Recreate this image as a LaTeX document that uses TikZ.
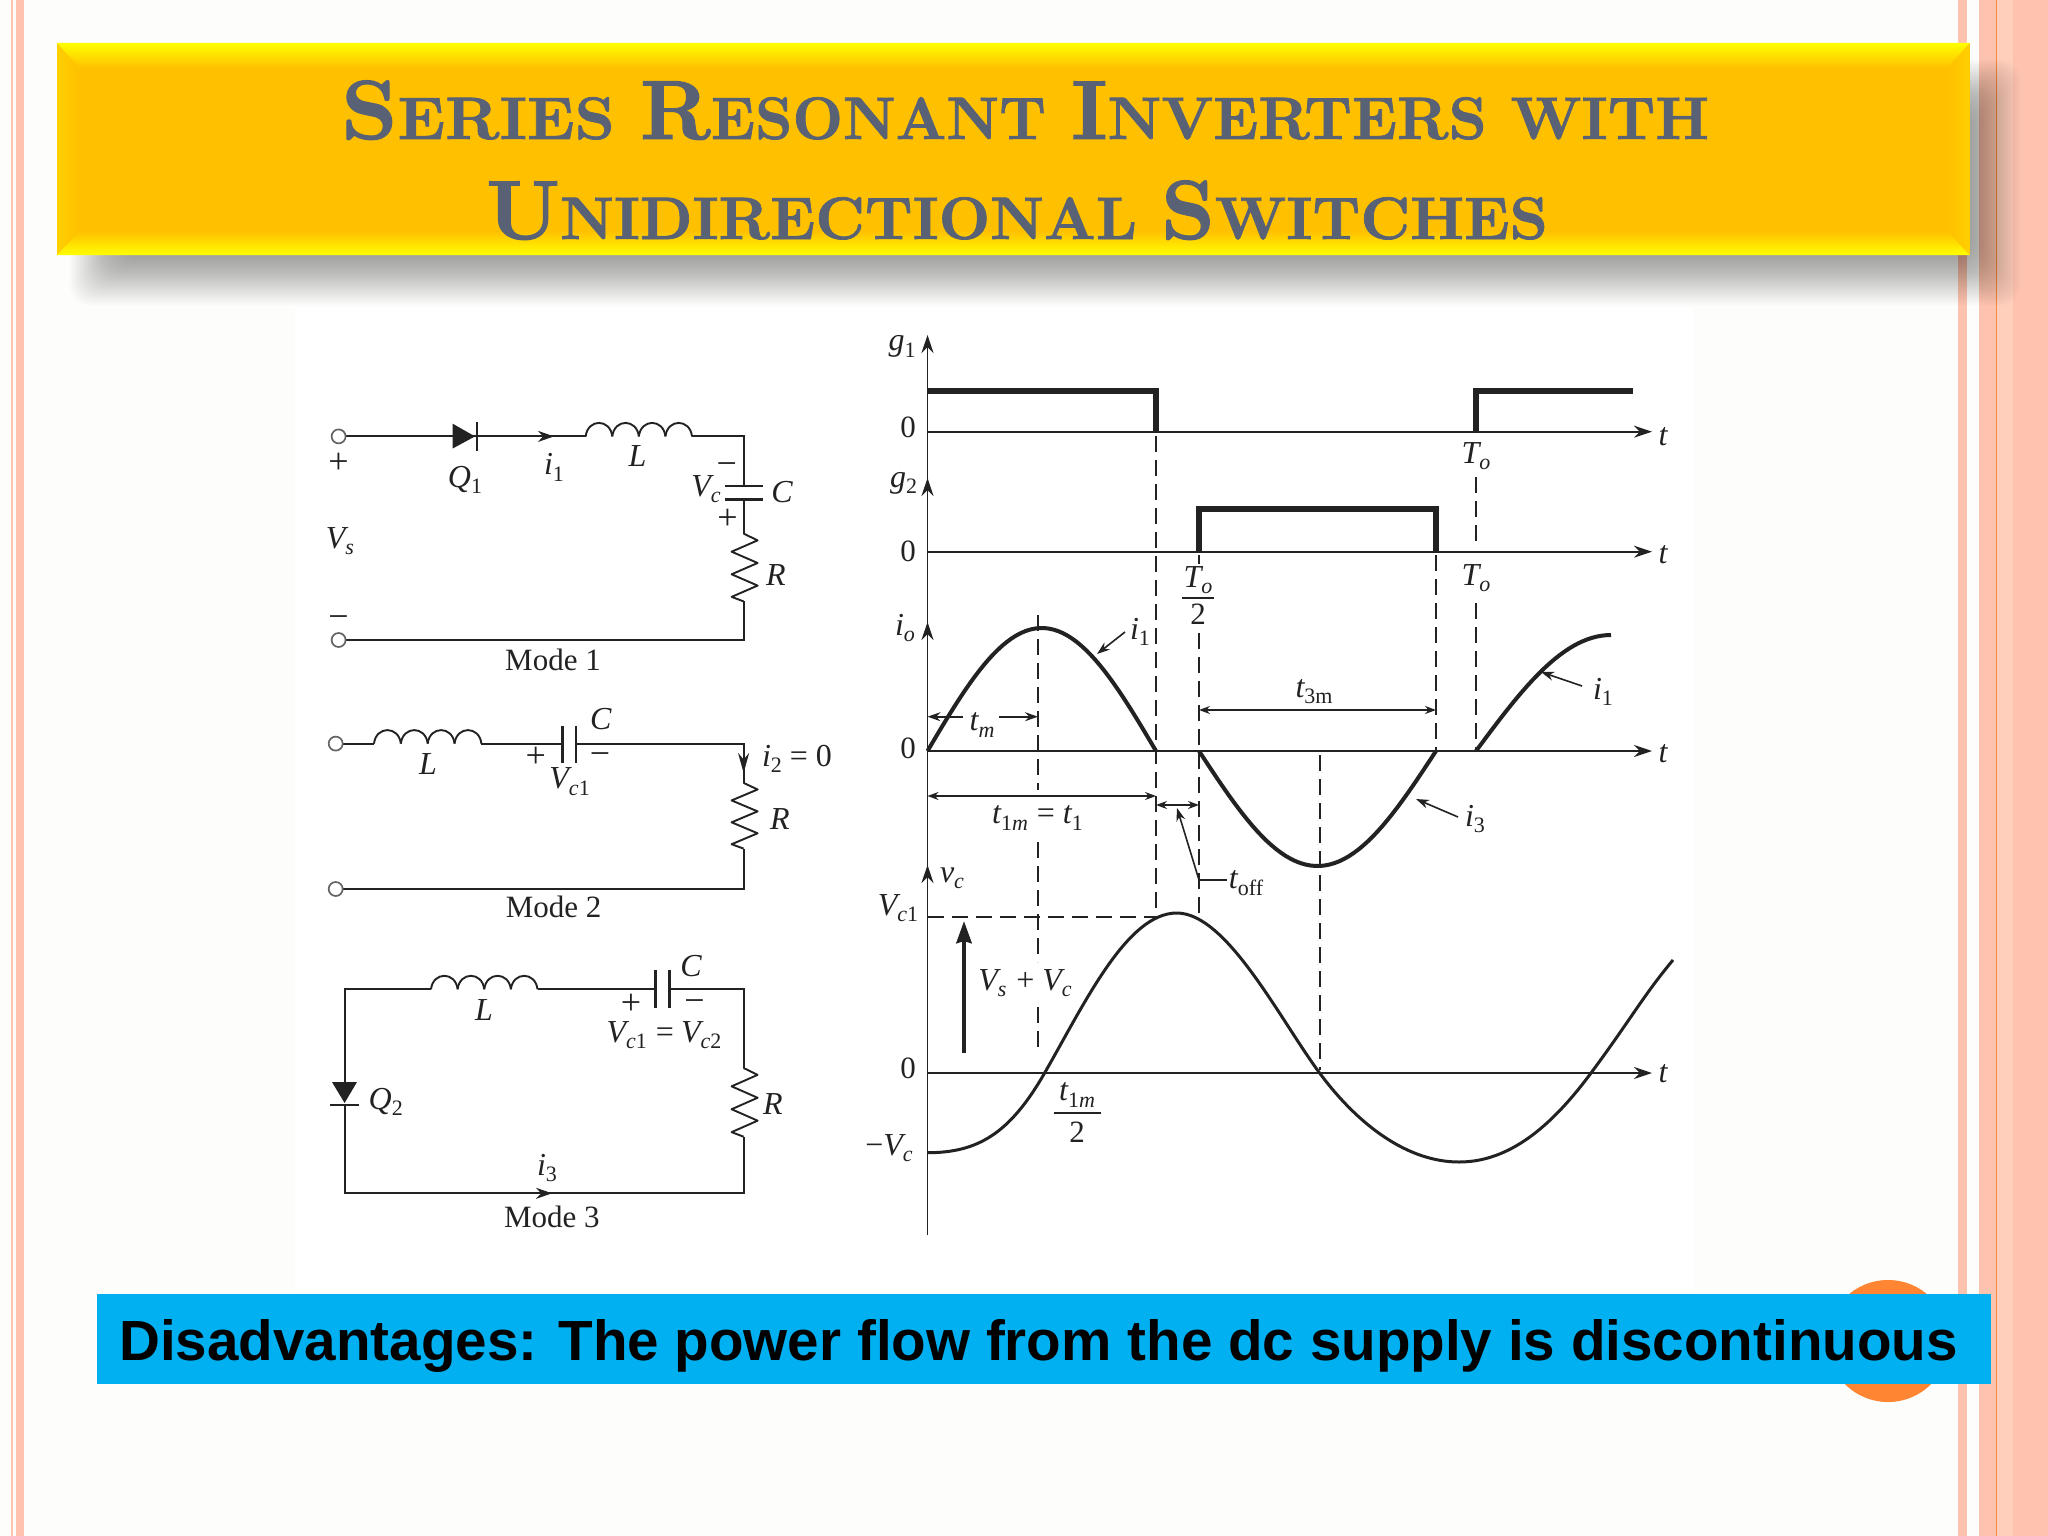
\documentclass[tikz,border=0pt]{standalone}
\usepackage{fontspec}
\usepackage{graphicx}
\usetikzlibrary{arrows.meta,calc}
\newfontfamily\tms{Liberation Serif}
\newfontfamily\ars{Liberation Sans}
\newfontfamily\ttlf{lmroman10-bold.otf}[FakeBold=1.2]
\definecolor{pinkst}{HTML}{FDC3AF}
\definecolor{pinklt}{HTML}{FFCFBB}
\definecolor{orline}{HTML}{F08A3C}
\definecolor{amber}{HTML}{FFC000}
\definecolor{bevel}{HTML}{FFD000}
\definecolor{ttl}{HTML}{596275}
\definecolor{ink}{HTML}{222222}
\definecolor{band}{HTML}{00B0F0}
\definecolor{circ}{HTML}{FF8533}
\definecolor{pagebg}{HTML}{FDFEFC}
\newcommand\sbs[1]{\raisebox{-.2em}{\fontsize{22}{22}\selectfont #1}}
\newcommand\bsm[2]{{\fontsize{84}{84}\selectfont #1}{\fontsize{60}{60}\selectfont #2}}
\newcommand\wsp{\hspace{24pt}}
% coil: start x, end x, y
\newcommand\mycoil[3]{%
  \pgfmathsetmacro\cw{(#2-#1)/4}
  \foreach \ci in {0,1,2,3}{
    \pgfmathsetmacro\ca{#1+\ci*\cw}
    \pgfmathsetmacro\cb{\ca+\cw}
    \draw[wire] (\ca,#3) .. controls (\ca+2,#3-18) and (\cb-2,#3-18) .. (\cb,#3);
  }}
% resistor: x, top y, bottom y
\newcommand\myres[3]{%
  \pgfmathsetmacro\rd{(#3-#2)/6}
  \draw[wire,line join=round] (#1,#2) -- ++(14,.6*\rd) -- ++(-26,\rd) -- ++(26,\rd) -- ++(-26,\rd) -- ++(26,\rd) -- ++(-26,\rd) -- (#1,#3);
}
\tikzset{
  wire/.style={line width=1.9pt,draw=ink},
  term/.style={circle,draw=ink!70,line width=1.7pt,fill=white,minimum size=14pt,inner sep=0pt},
  lab/.style={font=\tms\itshape\fontsize{32}{34}\selectfont,text=ink,inner sep=0pt},
  rom/.style={font=\tms\fontsize{31}{33}\selectfont,text=ink,inner sep=0pt},
  sgn/.style={font=\tms\fontsize{36}{38}\selectfont,text=ink,inner sep=0pt},
  ttlw/.style={anchor=base west,inner sep=0pt,text=ttl,font=\ttlf},
  ax/.style={line width=1.9pt,draw=ink},
  pulse/.style={line width=6pt,draw=ink,miter limit=10},
  dsh/.style={line width=1.9pt,draw=ink,dash pattern=on 16pt off 8pt},
  curve/.style={line width=4pt,draw=ink,line join=round},
  vcurve/.style={line width=3pt,draw=ink,line join=round},
  atip/.style={-{Stealth[length=18pt,width=12pt]},line width=1.9pt,draw=ink},
  dim/.style={line width=1.6pt,draw=ink,-{Stealth[length=13pt,width=9pt]}},
  dimd/.style={line width=1.6pt,draw=ink,{Stealth[length=11pt,width=8pt]}-{Stealth[length=11pt,width=8pt]}},
}
\begin{document}
\begin{tikzpicture}[x=1pt,y=-1pt]
\useasboundingbox (0,0) rectangle (2048,1536);
% page
\fill[pagebg] (0,0) rectangle (2048,1536);
\fill[white] (295,308) rectangle (1693,1290);
% stripes
\fill[pinkst] (10.7,0) rectangle (12.7,1536);
\fill[pinkst] (16,0) rectangle (24,1536);
\fill[pinkst] (1958.3,0) rectangle (1967,1536);
\fill[pinkst] (1979.3,0) rectangle (2048,1536);
\fill[pinklt] (1997,0) rectangle (2013,1536);
\fill[orline] (1995.5,0) rectangle (1997.3,1536);
% shadow
\foreach \k in {0,2,...,48}{
  \fill[black,opacity=.015,rounded corners=20pt] (70+\k,60+\k) rectangle (2020-\k,305-\k);
}
% title box
\fill[amber] (57,43) rectangle (1969.5,255);
\shade[left color=bevel,right color=amber] (57,43) -- (80,64) -- (80,235) -- (57,255) -- cycle;
\shade[left color=amber,right color=bevel] (1969.5,43) -- (1947,64) -- (1947,235) -- (1969.5,255) -- cycle;
\shade[top color=yellow,middle color=yellow,bottom color=amber] (57,43) -- (1969.5,43) -- (1947,68) -- (80,68) -- cycle;
\shade[top color=amber,middle color=yellow,bottom color=yellow] (80,231) -- (1947,231) -- (1969.5,255) -- (57,255) -- cycle;
\node[ttlw] (tw1) at (341,139) {\scalebox{1.05}[1]{\bsm{S}{ERIES}}};
\node[ttlw] (tw2) at (640,139) {\scalebox{.975}[1]{\bsm{R}{ESONANT}}};
\node[ttlw] (tw3) at (1071,139) {\scalebox{.995}[1]{\bsm{I}{NVERTERS}\wsp{\fontsize{60}{60}\selectfont WITH}}};
\node[ttlw] (tw4) at (486,239) {\scalebox{.995}[1]{\bsm{U}{NIDIRECTIONAL}}};
\node[ttlw] (tw5) at (1161,239) {\bsm{S}{WITCHES}};
% ---- Mode 1
\coordinate (a1) at (338.6,436.4);
\coordinate (a2) at (743.6,436.4);
\coordinate (a3) at (743.6,640);
\coordinate (a4) at (338.6,640);
\draw[wire] (a1) -- (585.7,436.4);
\mycoil{585.7}{692}{436.4}
\draw[wire] (692,436.4) -- (a2) -- (743.6,486);
\draw[wire] (743.6,499.6) -- (743.6,533.6);
\draw[line width=2.4pt,draw=ink] (725,486) -- (762.5,486) (725,499.6) -- (762.5,499.6);
\myres{743.6}{533.6}{601.4}
\draw[wire] (743.6,601.4) -- (a3) -- (a4);
\node[term] (t1a) at (a1) {};
\node[term] (t1b) at (a4) {};
\fill[ink] (452.5,423.6) -- (475,436.4) -- (452.5,448.6) -- cycle;
\draw[wire] (476.8,422) -- (476.8,451);
\draw[wire,-{Stealth[length=16pt,width=11pt]}] (537.5,436.4) -- (554,436.4);
\node[sgn] (p1) at (338.6,463) {+};
\node[lab] (q1) at (465,480) {Q\sbs{\upshape 1}};
\node[lab] (i1a) at (554,467.5) {i\sbs{\upshape 1}};
\node[lab] (l1) at (637.5,456) {L};
\node[sgn] (m1) at (726.8,469) {−};
\node[lab] (vc1) at (706,489) {V\sbs{c}};
\node[lab] (c1) at (782,492) {C};
\node[sgn] (p2) at (727.5,519) {+};
\node[lab] (r1) at (776,574.6) {R};
\node[lab] (vs1) at (340,541.4) {V\sbs{s}};
\node[sgn] (m2) at (338.6,622) {−};
\node[rom] (mode1) at (553,660) {Mode 1};
% ---- Mode 2
\coordinate (b1) at (335.7,743.6);
\coordinate (b2) at (743.6,743.6);
\coordinate (b3) at (743.6,889);
\coordinate (b4) at (335.7,889);
\draw[wire] (b1) -- (374,743.6);
\mycoil{374}{481.4}{743.6}
\draw[wire] (481.4,743.6) -- (562.5,743.6);
\draw[line width=2.4pt,draw=ink] (562.5,725.7) -- (562.5,762.9) (575.7,725.7) -- (575.7,762.9);
\draw[wire] (575.7,743.6) -- (b2) -- (743.6,782.9);
\myres{743.6}{782.9}{848.6}
\draw[wire] (743.6,848.6) -- (b3) -- (b4);
\draw[wire,-{Stealth[length=20pt,width=11pt]}] (743.6,745) -- (743.6,773);
\node[term] (t2a) at (b1) {};
\node[term] (t2b) at (b4) {};
\node[lab] (c2) at (600.7,719) {C};
\node[sgn] (p3) at (535.7,757) {+};
\node[sgn] (m3) at (600,759) {−};
\node[lab] (l2) at (427.9,764) {L};
\node[lab] (vc2) at (569.6,781.8) {V\sbs{\itshape c\upshape 1}};
\node[lab] (i2) at (797,758.6) {i\sbs{\upshape 2}{\upshape\ =\ 0}};
\node[lab] (r2) at (780,819) {R};
\node[rom] (mode2) at (553.6,906.8) {Mode 2};
% ---- Mode 3
\coordinate (c1a) at (344.6,989.3);
\coordinate (c2a) at (743.6,989.3);
\coordinate (c3a) at (743.6,1193.3);
\coordinate (c4a) at (344.6,1193.3);
\draw[wire] (344.6,1082) -- (c1a) -- (431,989.3);
\mycoil{431}{537.5}{989.3}
\draw[wire] (537.5,989.3) -- (655.4,989.3);
\draw[line width=2.4pt,draw=ink] (655.4,970) -- (655.4,1008) (669.6,970) -- (669.6,1008);
\draw[wire] (669.6,989.3) -- (c2a) -- (743.6,1068);
\myres{743.6}{1068}{1136.7}
\draw[wire] (743.6,1136.7) -- (c3a) -- (c4a) -- (344.6,1105);
\fill[ink] (332,1082) -- (357,1082) -- (344.6,1103) -- cycle;
\draw[wire] (330,1105) -- (359,1105);
\draw[wire,-{Stealth[length=16pt,width=11pt]}] (534,1193.3) -- (552,1193.3);
\node[lab] (q2) at (385.7,1101.7) {Q\sbs{\upshape 2}};
\node[lab] (l3) at (484,1010) {L};
\node[lab] (c3) at (691,966) {C};
\node[sgn] (p4) at (631,1004) {+};
\node[sgn] (m4) at (694.6,1006) {−};
\node[lab] (vc3) at (664,1035) {V\sbs{\itshape c\upshape 1}\hspace{9pt}{\upshape =}\hspace{7pt}V\sbs{\itshape c\upshape 2}};
\node[lab] (r3) at (773,1104) {R};
\node[lab] (i3a) at (547,1168) {i\sbs{\upshape 3}};
\node[rom] (mode3) at (551.8,1216.7) {Mode 3};
% ---- axes
\draw[ax] (927.5,1235) -- (927.5,340);
\draw[atip] (927.5,358) -- (927.5,335);
\draw[atip] (927.5,497) -- (927.5,478);
\draw[atip] (927.5,643) -- (927.5,622);
\draw[atip] (927.5,886) -- (927.5,865);
\draw[atip] (927.5,431.7) -- (1652,431.7);
\draw[atip] (927.5,551.7) -- (1652,551.7);
\draw[atip] (927.5,751) -- (1652,751);
\draw[atip] (927.5,1073) -- (1652,1073);
\foreach \yy/\nn in {437/ta,555/tb,754/tc,1074/td}{
  \node[lab] (\nn) at (1663,\yy) {t};
}
% pulses
\draw[pulse] (927.5,390.7) -- (1156,390.7) -- (1156,431.7);
\draw[pulse] (1476,431.7) -- (1476,390.7) -- (1633,390.7);
\draw[pulse] (1199,551.7) -- (1199,509) -- (1436,509) -- (1436,551.7);
% dashed
\draw[dsh] (1156,436) -- (1156,916.7);
\draw[dsh] (1199,555) -- (1199,564);
\draw[dsh] (1199,633) -- (1199,916);
\draw[dsh] (1038,615) -- (1038,790);
\draw[dsh] (1038,842) -- (1038,962);
\draw[dsh] (1038,1007) -- (1038,1050);
\draw[dsh] (1319.6,755) -- (1319.6,1070);
\draw[dsh] (1436,555) -- (1436,751);
\draw[dsh] (1476,477) -- (1476,548);
\draw[dsh] (1476,603) -- (1476,751);
\draw[dsh] (927.5,916.7) -- (1156,916.7);
% curves
\draw[curve] plot[domain=0:180,samples=50] ({927.5+228.5*(\x/180)},{751-123*sin(\x)});
\draw[curve] plot[domain=0:180,samples=50] ({1199+237*(\x/180)},{751+115*sin(\x)});
\draw[curve] plot[domain=0:90,samples=30] ({1476+135*(\x/90)},{751-116*sin(\x)});
\draw[vcurve] (927.5,1152.7) .. controls (977.5,1152.7) and (1009.6,1134) .. (1044.6,1073)
  .. controls (1084.6,1003.4) and (1126.8,913) .. (1176.8,913)
  .. controls (1226.8,913) and (1279.6,1019) .. (1319.6,1073)
  .. controls (1359.6,1127) and (1409,1162) .. (1459,1162)
  .. controls (1509,1162) and (1551,1127) .. (1591,1073)
  .. controls (1631,1019) and (1643,996) .. (1673,960);
% axis labels
\node[lab] (g1) at (902,346.7) {g\sbs{\upshape 1}};
\node[lab] (g2) at (903.6,483) {g\sbs{\upshape 2}};
\node[lab] (io) at (905,628) {i\sbs{o}};
\node[lab] (vc) at (952,878) {v\sbs{c}};
\node[rom] (z1) at (908,427) {0};
\node[rom] (z2) at (908,551.7) {0};
\node[rom] (z3) at (908,748) {0};
\node[rom] (z4) at (908,1068) {0};
\node[lab] (vc1l) at (898,908) {V\sbs{\itshape c\upshape 1}};
\node[lab] (mvc) at (889,1148) {{\upshape −}V\sbs{c}};
\node[lab] (To1) at (1476,456) {T\sbs{o}};
\node[lab] (To2) at (1476,578) {T\sbs{o}};
% To/2
\node[lab] (To3) at (1198,580) {T\sbs{o}};
\coordinate (fa) at (1182,598);
\coordinate (fb) at (1214,598);
\draw[line width=1.7pt,draw=ink] (fa) -- (fb);
\node[rom] (two1) at (1198,614) {2};
% i labels
\node[lab] (i1b) at (1140,632) {i\sbs{\upshape 1}};
\coordinate (i1bt) at (1125,632);
\coordinate (i1bh) at (1097,654);
\draw[dim] (i1bt) -- (i1bh);
\node[lab] (i1c) at (1603,692) {i\sbs{\upshape 1}};
\coordinate (i1ct) at (1582,686);
\coordinate (i1ch) at (1541,672);
\draw[dim] (i1ct) -- (i1ch);
\node[lab] (i3b) at (1475,819) {i\sbs{\upshape 3}};
\coordinate (i3bt) at (1458,817);
\coordinate (i3bh) at (1416,799);
\draw[dim] (i3bt) -- (i3bh);
% dimensions
\draw[dim] (962.5,716.7) -- (927.5,716.7);
\draw[dim] (999,716.7) -- (1038,716.7);
\node[lab] (tm) at (982,725) {t\sbs{m}};
\draw[dimd] (1199,710) -- (1436,710);
\node[lab] (t3m) at (1314,691.7) {t\sbs{\upshape 3m}};
\draw[dimd] (927.5,796) -- (1156,796);
\node[lab] (t1m) at (1037.5,818) {t\sbs{\upshape 1\itshape m}\hspace{9pt}{\upshape =}\hspace{8pt}t\sbs{\upshape 1}};
\draw[dimd] (1156,805) -- (1199,805);
\coordinate (lk) at (1199,880);
\coordinate (lh) at (1177,808);
\coordinate (le) at (1227,880);
\draw[dim] (lk) -- (lh);
\draw[line width=1.6pt,draw=ink] (lk) -- (le);
\node[lab] (toff) at (1246,883) {t\sbs{\upshape off}};
\draw[line width=4.5pt,draw=ink,-{Stealth[length=22pt,width=15pt,inset=2pt]}] (964,1053) -- (964,921);
\node[lab] (vsvc) at (1025,983) {V\sbs{s}\hspace{10pt}{\upshape +}\hspace{8pt}V\sbs{c}};
\node[lab] (t1mh) at (1077,1095) {t\sbs{\upshape 1\itshape m}};
\coordinate (fc) at (1054,1113);
\coordinate (fd) at (1101,1113);
\draw[line width=1.7pt,draw=ink] (fc) -- (fd);
\node[rom] (two2) at (1077,1132) {2};
% page number circle and band
\fill[circ] (1888,1341) circle (61);
\fill[band] (97,1294) rectangle (1991,1384);
\node[anchor=base,inner sep=0pt,font=\ars\bfseries\fontsize{56.6}{60}\selectfont,text=black] (dis) at (1038.5,1360) {Disadvantages: The power flow from the dc supply is discontinuous};
\end{tikzpicture}
\end{document}
